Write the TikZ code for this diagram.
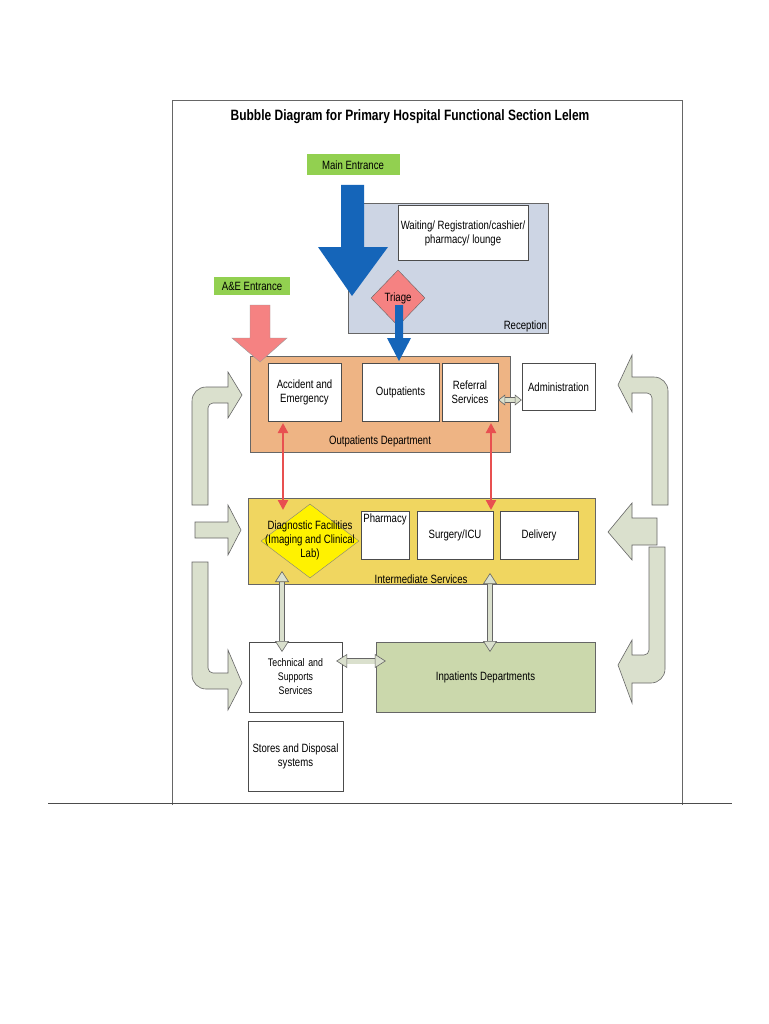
\documentclass[tikz,border=0pt]{standalone}
\usepackage{fontspec}
\setmainfont{Liberation Sans}[FakeStretch=0.8]
\usetikzlibrary{arrows.meta,shapes.geometric,calc}
\definecolor{recep}{RGB}{205,213,228}
\definecolor{opd}{RGB}{238,180,132}
\definecolor{inter}{RGB}{240,214,96}
\definecolor{inpat}{RGB}{203,216,172}
\definecolor{entr}{RGB}{146,208,80}
\definecolor{bluear}{RGB}{21,101,185}
\definecolor{pinkar}{RGB}{245,130,130}
\definecolor{sidear}{RGB}{218,224,205}
\definecolor{redar}{RGB}{232,80,80}
\tikzset{%
	box/.style={draw=black!70, fill=white, align=center, inner sep=1pt, font=\fontsize{12}{14}\selectfont},
	area/.style={draw=black!60, inner sep=0pt},
	lbl/.style={font=\fontsize{12}{14}\selectfont, fill=white, inner sep=0.5pt},
	entrance/.style={fill=entr, inner sep=0pt, font=\fontsize{12}{14}\selectfont},
	block/.style={draw=black!60, line width=0.6pt},
	redlink/.style={redar, line width=2.2pt, {Triangle[length=10pt,width=10pt]}-{Triangle[length=10pt,width=10pt]}},
	graylink/.style={draw=black!60, line width=0.6pt, double=sidear, double distance=4pt,
		{Triangle[open,fill=sidear,length=11pt,width=14pt]}-{Triangle[open,fill=sidear,length=11pt,width=14pt]}},
	smalllink/.style={graylink, {Triangle[open,fill=sidear,length=7pt,width=11pt]}-{Triangle[open,fill=sidear,length=7pt,width=11pt]}},
}
\begin{document}
\begin{tikzpicture}[x=1pt, y=-1pt]
	\useasboundingbox (0,0) rectangle (768,1024);
	\fill[white] (0,0) rectangle (768,1024);
	% frame
	\draw[black!60] (172,805) -- (172,100) -- (682,100) -- (682,805);
	\draw[black!70] (48,803) -- (732,803);
	\node[font=\bfseries\fontsize{15}{17}\selectfont] (title) at (410,117) {Bubble Diagram for Primary Hospital Functional Section Lelem};

	% reception
	\node[area, fill=recep, minimum width=200, minimum height=130] (recep) at (448,268) {};
	\node[font=\fontsize{12}{14}\selectfont, anchor=south east, inner sep=1pt] (reclbl) at (recep.south east) {Reception};
	\node[box, minimum width=130, minimum height=55] (wait) at (463,233) {Waiting/ Registration/cashier/\\pharmacy/ lounge};
	\node[diamond, draw=black!60, fill=pinkar, minimum width=54, minimum height=56, inner sep=0pt, font=\fontsize{12}{14}\selectfont] (triage) at (398,298) {Triage};

	% entrances
	\node[entrance, minimum width=93, minimum height=21] (main) at (353,165) {Main Entrance};
	\node[entrance, minimum width=76, minimum height=18] (ae) at (252,286) {A\&E Entrance};
	\fill[bluear] (341,185) -- (364,185) -- (364,247) -- (388,247) -- (352,296) -- (318,247) -- (341,247) -- cycle;

	% outpatients department
	\node[area, fill=opd, minimum width=260, minimum height=96] (opd) at (380,404) {};
	\node[lbl, fill=opd] (opdlbl) at (380,441) {Outpatients Department};
	\node[box, minimum width=73, minimum height=58] (acc) at (304.5,392) {Accident and\\Emergency};
	\node[box, minimum width=77, minimum height=58] (outp) at (400.5,392) {Outpatients};
	\node[box, minimum width=56, minimum height=58] (ref) at (470,392) {Referral\\Services};
	\node[box, minimum width=73, minimum height=47] (admin) at (558.5,387) {Administration};

	\fill[bluear] (395,305) -- (403,305) -- (403,338) -- (411,338) -- (399,361) -- (387,338) -- (395,338) -- cycle;
	\fill[pinkar, draw=black!40] (250,305) -- (270,305) -- (270,338) -- (287,338) -- (260,362) -- (232,338) -- (250,338) -- cycle;

	% intermediate services
	\node[area, fill=inter, minimum width=347, minimum height=86] (inter) at (421.5,541) {};
	\node[lbl, fill=inter] (interlbl) at (421,579) {Intermediate Services};
	\node[diamond, draw=black!50, fill=yellow, minimum width=98, minimum height=74, inner sep=0pt] (diag) at (310,541) {};
	\node[font=\fontsize{12}{14}\selectfont, align=center, inner sep=0pt] (diaglbl) at (310,540) {Diagnostic Facilities\\(Imaging and Clinical\\Lab)};
	\node[box, minimum width=48, minimum height=48] (pharm) at (385,535) {};
	\node[font=\fontsize{12}{14}\selectfont, anchor=north, inner sep=3pt] (pharmlbl) at (pharm.north) {Pharmacy};
	\node[box, minimum width=76, minimum height=48] (surg) at (455,535) {Surgery/ICU};
	\node[box, minimum width=78, minimum height=48] (deliv) at (539,535) {Delivery};

	% lower blocks
	\node[box, font=\fontsize{11}{14}\selectfont, text width=93, inner sep=0pt, minimum height=70] (tech) at (295.5,677) {Technical and  Supports\\Services};
	\node[box, draw=black!60, fill=inpat, minimum width=219, minimum height=70] (inp) at (485.5,677) {Inpatients Departments};
	\node[box, minimum width=95, minimum height=70] (store) at (295.5,756) {Stores and Disposal\\systems};

	% links
	\coordinate (r1a) at (283,423); \coordinate (r1b) at (283,510);
	\coordinate (r2a) at (491,423); \coordinate (r2b) at (491,510);
	\draw[redlink] (r1a) -- (r1b);
	\draw[redlink] (r2a) -- (r2b);
	\coordinate (g1a) at (282,571); \coordinate (g1b) at (282,652);
	\coordinate (g2a) at (490,573); \coordinate (g2b) at (490,652);
	\draw[graylink] (g1a) -- (g1b);
	\draw[graylink] (g2a) -- (g2b);
	\draw[smalllink] (ref.east |- 0,400) -- (admin.west |- 0,400);
	\draw[graylink, double distance=5pt] ($(tech.east |- 0,661)+(-6,0)$) -- ($(inp.west |- 0,661)+(10,0)$);

	% side flow arrows
	\begin{scope}[block, fill=sidear]
		\filldraw (192,505) [rounded corners=14] -- (192,387) [sharp corners] -- (228,387) -- (228,372) -- (242,395) -- (228,418) -- (228,403) [rounded corners=5] -- (208,403) [sharp corners] -- (208,505) -- cycle;
		\filldraw (195,522) -- (228,522) -- (228,505) -- (241,530) -- (228,555) -- (228,538) -- (195,538) -- cycle;
		\filldraw (192,562) -- (208,562) [rounded corners=5] -- (208,673) [sharp corners] -- (228,673) -- (228,650) -- (242,683) -- (228,710) -- (228,689) [rounded corners=14] -- (192,689) [sharp corners] -- cycle;
		\filldraw (668,505) [rounded corners=14] -- (668,377) [sharp corners] -- (632,377) -- (632,355) -- (618,385) -- (632,412) -- (632,393) [rounded corners=5] -- (652,393) [sharp corners] -- (652,505) -- cycle;
		\filldraw (657,518) -- (632,518) -- (632,503) -- (608,532) -- (632,560) -- (632,545) -- (657,545) -- cycle;
		\filldraw (665,547) -- (649,547) [rounded corners=5] -- (649,655) [sharp corners] -- (632,655) -- (632,640) -- (618,665) -- (632,703) -- (632,683) [rounded corners=14] -- (665,683) [sharp corners] -- cycle;
	\end{scope}
\end{tikzpicture}
\end{document}
